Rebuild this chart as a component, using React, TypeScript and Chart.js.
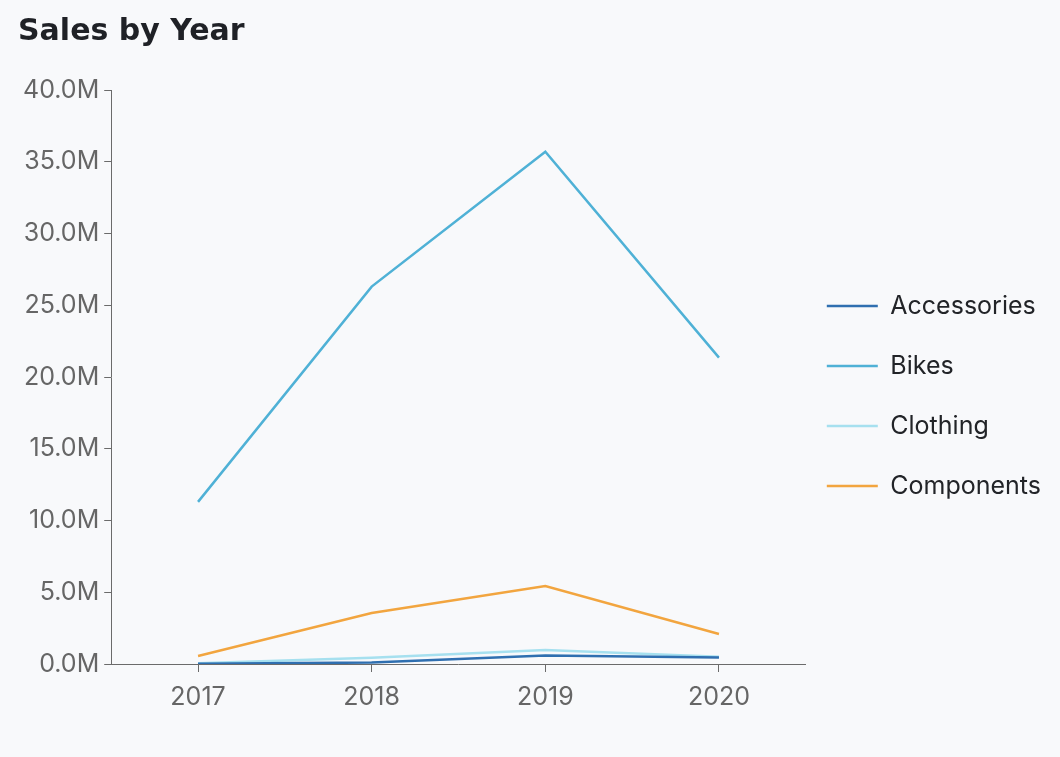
import React, { useEffect, useRef } from "react";
import { Chart, registerables } from "chart.js";

Chart.register(...registerables);

const years = ["2017", "2018", "2019", "2020"];
const accessories = [0.02e6, 0.1e6, 0.6e6, 0.45e6];
const bikes = [11.3e6, 26.3e6, 35.7e6, 21.35e6];
const clothing = [0.05e6, 0.44e6, 0.98e6, 0.5e6];
const components = [0.56e6, 3.56e6, 5.44e6, 2.09e6];
const seriesNames = ["Accessories", "Bikes", "Clothing", "Components"];
const seriesColors = ["#2f6fb0", "#4fb1d6", "#a6e0ef", "#f2a53f"];

const legendShift = {
  id: "legendShift",
  afterLayout(chart: any) {
    const lg = chart.legend;
    if (lg) {
      lg.left -= 14;
      lg.right -= 14;
      lg.top += 31;
      lg.bottom += 31;
    }
  },
};

export default function App() {
  const ref = useRef<HTMLCanvasElement>(null);
  useEffect(() => {
    document.body.style.margin = "0";
    document.body.style.background = "#f8f9fb";
    const ctx = ref.current!;
    const data = [accessories, bikes, clothing, components];
    const chart = new Chart(ctx, {
      type: "line",
      data: {
        labels: years,
        datasets: seriesNames.map((n, i) => ({
          label: n,
          data: data[i],
          borderColor: seriesColors[i],
          backgroundColor: seriesColors[i],
          borderWidth: 2.5,
          pointRadius: 0,
          tension: 0,
        })),
      },
      plugins: [legendShift],
      options: {
        animation: false,
        responsive: false,
        maintainAspectRatio: false,
        layout: { padding: { left: 18, right: -5, top: 8, bottom: 35 } },
        plugins: {
          title: {
            display: true,
            text: "Sales by Year",
            align: "start",
            color: "#1f2126",
            font: { family: "DejaVu Sans", size: 30, weight: "bold" },
            padding: { top: 6, bottom: 40 },
          },
          legend: {
            position: "right",
            align: "center",
            labels: {
              usePointStyle: true,
              pointStyle: "line",
              pointStyleWidth: 51,
              boxHeight: 25,
              padding: 35,
              color: "#222428",
              font: { family: "Inter", size: 25 },
            },
          },
          tooltip: { enabled: false },
        },
        scales: {
          x: {
            offset: true,
            grid: { display: true, drawOnChartArea: false, drawTicks: true, tickLength: 8, color: "#6b6b6b" },
            border: { display: true, color: "#6b6b6b" },
            ticks: { color: "#666", font: { family: "Inter", size: 25 }, padding: 10 },
          },
          y: {
            min: 0,
            max: 40e6,
            grid: { display: true, drawOnChartArea: false, drawTicks: true, tickLength: 7, color: "#6b6b6b" },
            border: { display: true, color: "#6b6b6b" },
            ticks: {
              stepSize: 5e6,
              color: "#666",
              font: { family: "Inter", size: 25 },
              padding: 5,
              callback: (v: any) => (Number(v) / 1e6).toFixed(1) + "M",
            },
          },
        },
      },
    });
    return () => chart.destroy();
  }, []);
  return (
    <div style={{ width: 1060, height: 757, background: "#f8f9fb" }}>
      <canvas ref={ref} width={1060} height={757} style={{ width: 1060, height: 757, display: "block" }} />
    </div>
  );
}
